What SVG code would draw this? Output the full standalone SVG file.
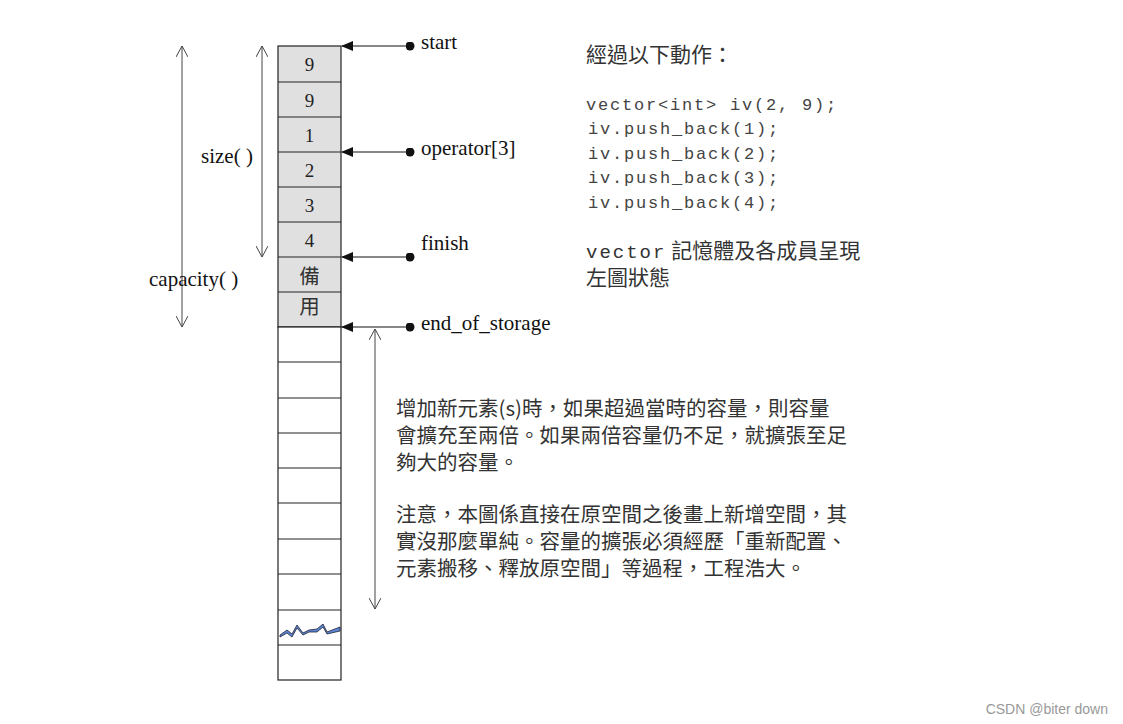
<svg xmlns="http://www.w3.org/2000/svg" width="1123" height="724" viewBox="0 0 1123 724">
<style>
.cell{stroke:#222;stroke-width:1.2}
.t{font-family:"Liberation Serif",serif;font-size:21px;fill:#111}
.n{font-family:"Liberation Serif",serif;font-size:19px;fill:#222;text-anchor:middle}
.cj{font-family:"Noto Sans CJK TC",sans-serif;font-size:20.5px;fill:#333}
.cj2{font-family:"Noto Sans CJK TC",sans-serif;font-size:21px;fill:#333}
.m{font-family:"Liberation Mono","Noto Sans CJK TC",monospace;font-size:17px;letter-spacing:1.8px;fill:#444}
.dim{stroke:#444;stroke-width:1;fill:none}
.ptr{stroke:#111;stroke-width:1.2}
</style>
<defs>
<marker id="open" viewBox="0 0 12 12" refX="11" refY="6" markerWidth="12" markerHeight="12" orient="auto-start-reverse" markerUnits="userSpaceOnUse"><path d="M0,0 L11,6 L0,12" fill="none" stroke="#444" stroke-width="1"/></marker>
<marker id="solid" viewBox="0 0 12 10" refX="11" refY="5" markerWidth="12" markerHeight="10" orient="auto" markerUnits="userSpaceOnUse"><path d="M0,0 L12,5 L0,10 Z" fill="#111"/></marker>
<marker id="dot" viewBox="0 0 10 10" refX="5" refY="5" markerWidth="9" markerHeight="9" markerUnits="userSpaceOnUse"><circle cx="5" cy="5" r="5" fill="#111"/></marker>
</defs>
<rect width="1123" height="724" fill="#fff"/>
<g id="vector">
<rect x="278" y="46" width="63" height="281" fill="#e0e0e0" class="cell"/>
<rect x="278" y="327" width="63" height="353" fill="#fff" class="cell"/>
<path class="cell" d="M278,82H341M278,117H341M278,152H341M278,187H341M278,222H341M278,257H341M278,292H341M278,362H341M278,398H341M278,433H341M278,468H341M278,503H341M278,539H341M278,574H341M278,610H341M278,645H341"/>
<path d="M280,635 L287,630 L292,634 L297,625 L303,633 L309,630 L317,629 L323,624 L327,632 L340,627 L340,631 L327,634 L323,627 L317,632 L309,632 L303,635 L297,628 L292,637 L287,633 L280,637Z" fill="#5b86d6" stroke="#223" stroke-width="0.8"/>
<text class="n" x="309.5" y="71">9</text>
<text class="n" x="309.5" y="107">9</text>
<text class="n" x="309.5" y="142">1</text>
<text class="n" x="309.5" y="177">2</text>
<text class="n" x="309.5" y="212">3</text>
<text class="n" x="309.5" y="247">4</text>
<text class="cj" x="309.5" y="284" text-anchor="middle" fill="#555">備</text>
<text class="cj" x="309.5" y="314" text-anchor="middle" fill="#555">用</text>
</g>
<g id="connectors">
<line class="dim" x1="182" y1="46" x2="182" y2="327" marker-start="url(#open)" marker-end="url(#open)"/>
<line class="dim" x1="262" y1="46" x2="262" y2="257" marker-start="url(#open)" marker-end="url(#open)"/>
<line class="dim" x1="375" y1="329" x2="375" y2="609" marker-start="url(#open)" marker-end="url(#open)"/>
<line class="ptr" x1="410" y1="46" x2="342" y2="46" marker-start="url(#dot)" marker-end="url(#solid)"/>
<line class="ptr" x1="410" y1="152" x2="342" y2="152" marker-start="url(#dot)" marker-end="url(#solid)"/>
<line class="ptr" x1="410" y1="257" x2="342" y2="257" marker-start="url(#dot)" marker-end="url(#solid)"/>
<line class="ptr" x1="410" y1="327" x2="342" y2="327" marker-start="url(#dot)" marker-end="url(#solid)"/>
</g>
<g id="labels">
<text class="t" x="201" y="163">size( )</text>
<text class="t" x="149" y="286">capacity( )</text>
<text class="t" x="421" y="49">start</text>
<text class="t" x="421" y="155">operator[3]</text>
<text class="t" x="421" y="250">finish</text>
<text class="t" x="421" y="330">end_of_storage</text>
</g>
<g id="notes">
<text class="cj2" x="586" y="62">經過以下動作：</text>
<text class="m" x="586" y="110">vector&lt;int&gt; iv(2, 9);</text>
<text class="m" x="588" y="134">iv.push_back(1);</text>
<text class="m" x="588" y="159">iv.push_back(2);</text>
<text class="m" x="588" y="183">iv.push_back(3);</text>
<text class="m" x="588" y="208">iv.push_back(4);</text>
<text class="cj2" x="586" y="258"><tspan font-family="Liberation Mono,monospace" font-size="19" letter-spacing="2">vector</tspan> 記憶體及各成員呈現</text>
<text class="cj2" x="586" y="285">左圖狀態</text>
<text class="cj" x="396" y="416">增加新元素(s)時，如果超過當時的容量，則容量</text>
<text class="cj" x="396" y="443">會擴充至兩倍。如果兩倍容量仍不足，就擴張至足</text>
<text class="cj" x="396" y="470">夠大的容量。</text>
<text class="cj" x="396" y="522">注意，本圖係直接在原空間之後畫上新增空間，其</text>
<text class="cj" x="396" y="549">實沒那麼單純。容量的擴張必須經歷「重新配置、</text>
<text class="cj" x="396" y="576">元素搬移、釋放原空間」等過程，工程浩大。</text>
<text x="1108" y="714" text-anchor="end" font-family="Liberation Sans,sans-serif" font-size="14" fill="#999">CSDN @biter down</text>
</g>
</svg>
